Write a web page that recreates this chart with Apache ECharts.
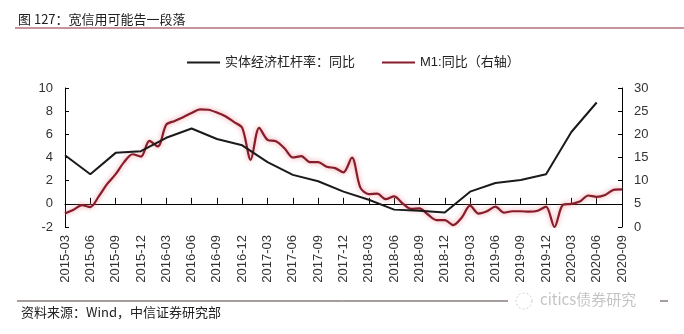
<!DOCTYPE html>
<html>
<head>
<meta charset="utf-8">
<script src="https://cdn.jsdelivr.net/npm/echarts@6/dist/echarts.min.js"></script>
<style>
html,body{margin:0;padding:0;background:#fff;}
#chart{width:684px;height:334px;}
</style>
</head>
<body>
<div id="chart"></div>
<script>
// Monthly categories (tick labels every quarter)
var categories = [
  '2015-03','2015-04','2015-05','2015-06','2015-07','2015-08','2015-09','2015-10','2015-11','2015-12',
  '2016-01','2016-02','2016-03','2016-04','2016-05','2016-06','2016-07','2016-08','2016-09','2016-10','2016-11','2016-12',
  '2017-01','2017-02','2017-03','2017-04','2017-05','2017-06','2017-07','2017-08','2017-09','2017-10','2017-11','2017-12',
  '2018-01','2018-02','2018-03','2018-04','2018-05','2018-06','2018-07','2018-08','2018-09','2018-10','2018-11','2018-12',
  '2019-01','2019-02','2019-03','2019-04','2019-05','2019-06','2019-07','2019-08','2019-09','2019-10','2019-11','2019-12',
  '2020-01','2020-02','2020-03','2020-04','2020-05','2020-06','2020-07','2020-08','2020-09'
];

// Quarterly: 实体经济杠杆率：同比 (left axis)
var leverageQuarters = ['2015-03','2015-06','2015-09','2015-12','2016-03','2016-06','2016-09','2016-12',
  '2017-03','2017-06','2017-09','2017-12','2018-03','2018-06','2018-09','2018-12',
  '2019-03','2019-06','2019-09','2019-12','2020-03','2020-06'];
var leverageValues = [4.2, 2.55, 4.4, 4.55, 5.7, 6.5, 5.6, 5.05,
  3.6, 2.5, 1.95, 1.05, 0.35, -0.5, -0.6, -0.75,
  1.05, 1.8, 2.05, 2.55, 6.2, 8.75];

// Monthly: M1:同比 (right axis)
var m1Values = [
  2.9, 3.7, 4.7, 4.3, 6.6, 9.3, 11.4, 14.0, 15.7, 15.2,
  18.6, 17.4, 22.1, 22.9, 23.7, 24.6, 25.4, 25.3, 24.7, 23.9, 22.7, 21.4,
  14.5, 21.4, 18.8, 18.5, 17.0, 15.0, 15.3, 14.0, 14.0, 13.0, 12.7, 11.8,
  15.0, 8.5, 7.1, 7.2, 6.0, 6.6, 5.1, 3.9, 4.0, 2.7, 1.5, 1.5,
  0.4, 2.0, 4.6, 2.9, 3.4, 4.4, 3.1, 3.4, 3.4, 3.3, 3.5, 4.4,
  0.0, 4.8, 5.0, 5.5, 6.8, 6.5, 6.9, 8.0, 8.1
];

var leftTicks = {min: -2, max: 10, interval: 2};
var rightTicks = {min: 0, max: 30, interval: 5};

var seriesNames = ['实体经济杠杆率：同比', 'M1:同比（右轴）'];

var leverageSeries = categories.map(function (c) {
  var k = leverageQuarters.indexOf(c);
  return k >= 0 ? leverageValues[k] : null;
});

var FONT = '"Liberation Sans", "Noto Sans CJK SC", sans-serif';
var chart = echarts.init(document.getElementById('chart'));
var quarterly = function (i) { return i % 3 === 0; };

chart.setOption({
  animation: false,
  backgroundColor: '#fff',
  textStyle: {fontFamily: FONT},
  legend: {
    left: 182, top: 51,
    itemWidth: 33, itemHeight: 2, itemGap: 27,
    icon: 'rect',
    textStyle: {fontSize: 13, color: '#222', fontFamily: FONT},
    data: seriesNames
  },
  grid: {left: 65, right: 62, top: 88, bottom: 107, containLabel: false},
  xAxis: [
    {
      type: 'category', data: categories, boundaryGap: false, position: 'bottom',
      axisLine: {show: false, onZero: false},
      axisTick: {show: false},
      axisLabel: {rotate: 90, interval: quarterly, margin: 8, fontSize: 13, color: '#333', fontFamily: FONT}
    },
    {
      type: 'category', data: categories, boundaryGap: false, position: 'bottom',
      axisLine: {show: true, onZero: true, onZeroAxisIndex: 0, lineStyle: {color: '#000', width: 1}},
      axisTick: {show: true, inside: true, length: 6, interval: quarterly, lineStyle: {color: '#000'}},
      axisLabel: {show: false}
    }
  ],
  yAxis: [
    {
      type: 'value', position: 'left', min: leftTicks.min, max: leftTicks.max, interval: leftTicks.interval,
      axisLine: {show: true, onZero: false, lineStyle: {color: '#000'}},
      axisTick: {show: true, inside: true, length: 4, lineStyle: {color: '#000'}},
      splitLine: {show: false},
      axisLabel: {fontSize: 13, color: '#333', margin: 12, fontFamily: FONT}
    },
    {
      type: 'value', position: 'right', min: rightTicks.min, max: rightTicks.max, interval: rightTicks.interval,
      axisLine: {show: true, onZero: false, lineStyle: {color: '#000'}},
      axisTick: {show: true, inside: true, length: 4, lineStyle: {color: '#000'}},
      splitLine: {show: false},
      axisLabel: {fontSize: 13, color: '#333', margin: 12, fontFamily: FONT}
    }
  ],
  series: [
    {
      name: seriesNames[0], type: 'line', xAxisIndex: 0, yAxisIndex: 0,
      data: leverageSeries, connectNulls: true, showSymbol: false, smooth: false,
      lineStyle: {color: '#1a1a1a', width: 2}, itemStyle: {color: '#1a1a1a'}, z: 3
    },
    {
      name: seriesNames[1], type: 'line', xAxisIndex: 0, yAxisIndex: 1,
      data: m1Values, showSymbol: false, smooth: 0.3,
      lineStyle: {color: '#861d2b', width: 2.2, shadowColor: 'rgba(235,130,140,0.9)', shadowBlur: 5},
      itemStyle: {color: '#861d2b'}, z: 2
    }
  ],
  graphic: [
    {type: 'text', left: 18, top: 13, style: {text: '图 127：宽信用可能告一段落', font: '13px "Noto Sans CJK SC", sans-serif', fill: '#222'}},
    {type: 'line', shape: {x1: 15, y1: 28, x2: 684, y2: 28}, style: {stroke: '#8c2a3a', lineWidth: 1.2}},
    {type: 'line', shape: {x1: 17, y1: 301, x2: 668, y2: 301}, style: {stroke: '#4d3b3b', lineWidth: 1}},
    {type: 'rect', shape: {x: 508, y: 292, width: 152, height: 18}, style: {fill: '#fff'}},
    {type: 'circle', shape: {cx: 524, cy: 301, r: 8}, style: {fill: 'none', stroke: '#d0d0d0', lineWidth: 1, lineDash: [2, 2]}},
    {type: 'text', left: 540, top: 292, style: {text: 'citics债券研究', font: '15px "Noto Sans CJK SC", sans-serif', fill: '#c4c4c4'}},
    {type: 'text', left: 21, top: 306, style: {text: '资料来源：Wind，中信证券研究部', font: '13px "Noto Sans CJK SC", sans-serif', fill: '#222'}}
  ]
});
</script>
</body>
</html>
